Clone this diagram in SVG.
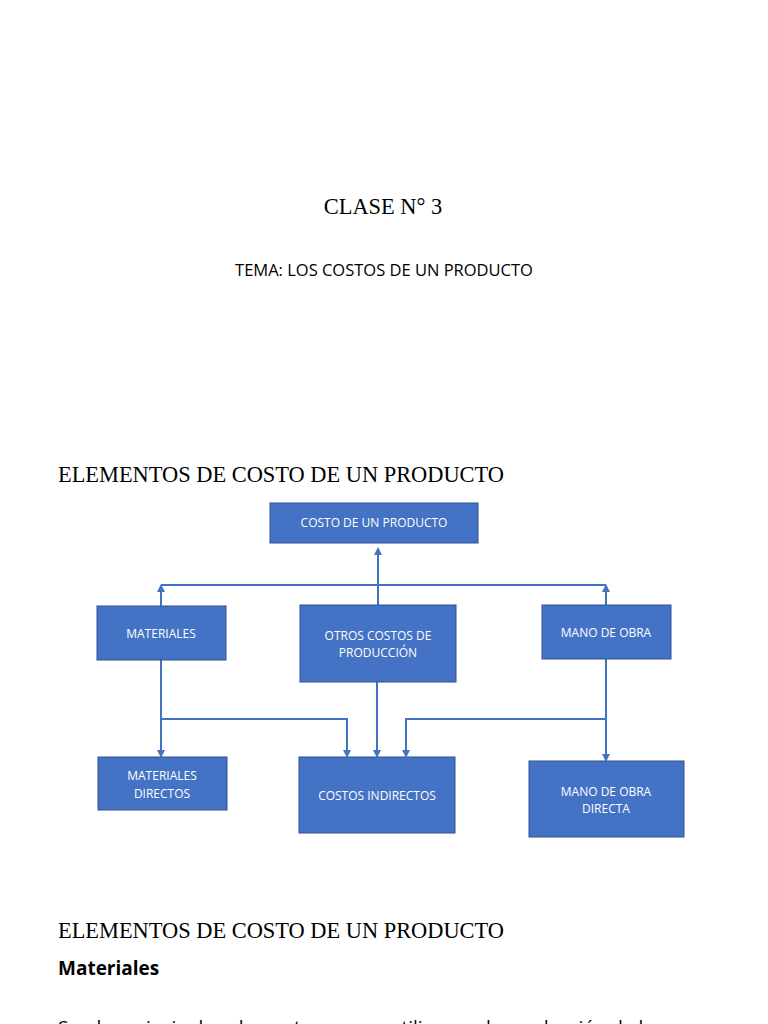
<svg xmlns="http://www.w3.org/2000/svg" width="768" height="1024" viewBox="0 0 768 1024">
<style>
.b{fill:#4472C4;stroke:#2F528F;stroke-width:1}
.t{fill:#fff;font-family:"Open Sans","Noto Sans",sans-serif;font-size:12px;text-anchor:middle}
.c{fill:none;stroke:#4472C4;stroke-width:2}
.s{font-family:"Liberation Serif",serif;font-size:22.4px;fill:#000}
.n{font-family:"Open Sans","Noto Sans",sans-serif;fill:#000}
</style>
<defs><marker id="a" markerWidth="8" markerHeight="8" refX="4" refY="4" orient="auto" markerUnits="userSpaceOnUse"><path d="M0,0 L8,4 L0,8 z" fill="#4472C4"/></marker></defs>
<rect width="768" height="1024" fill="#fff"/>
<text class="s" x="383" y="214" text-anchor="middle">CLASE N° 3</text>
<text class="n" x="384" y="276" font-size="16.5" text-anchor="middle">TEMA: LOS COSTOS DE UN PRODUCTO</text>
<text class="s" x="58" y="482">ELEMENTOS DE COSTO DE UN PRODUCTO</text>
<text class="s" x="58" y="938">ELEMENTOS DE COSTO DE UN PRODUCTO</text>
<text class="n" x="58" y="975" font-size="19" font-weight="bold">Materiales</text>
<text class="n" x="58" y="1034" font-size="19">Son los principales elementos que se utilizan en la producción de los</text>
<g id="connectors">
<path class="c" d="M378 605 V551" marker-end="url(#a)"/>
<path class="c" d="M161 585 H606"/>
<path class="c" d="M161 606 V588" marker-end="url(#a)"/>
<path class="c" d="M606 605 V588" marker-end="url(#a)"/>
<path class="c" d="M161 660 V754" marker-end="url(#a)"/>
<path class="c" d="M161 719 H347 V754" marker-end="url(#a)"/>
<path class="c" d="M377 682 V754" marker-end="url(#a)"/>
<path class="c" d="M606 719 H406 V754" marker-end="url(#a)"/>
<path class="c" d="M606 659 V758" marker-end="url(#a)"/>
</g>
<g id="n1"><rect class="b" x="270" y="503" width="208" height="40"/><text class="t" x="374" y="527">COSTO DE UN PRODUCTO</text></g>
<g id="n2"><rect class="b" x="97" y="606" width="129" height="54"/><text class="t" x="161" y="638">MATERIALES</text></g>
<g id="n3"><rect class="b" x="300" y="605" width="156" height="77"/><text class="t" x="378" y="640">OTROS COSTOS DE</text><text class="t" x="378" y="657">PRODUCCIÓN</text></g>
<g id="n4"><rect class="b" x="542" y="605" width="129" height="54"/><text class="t" x="606" y="637">MANO DE OBRA</text></g>
<g id="n5"><rect class="b" x="98" y="757" width="129" height="53"/><text class="t" x="162" y="780">MATERIALES</text><text class="t" x="162" y="798">DIRECTOS</text></g>
<g id="n6"><rect class="b" x="299" y="757" width="156" height="76"/><text class="t" x="377" y="800">COSTOS INDIRECTOS</text></g>
<g id="n7"><rect class="b" x="529" y="761" width="155" height="76"/><text class="t" x="606" y="796">MANO DE OBRA</text><text class="t" x="606" y="813">DIRECTA</text></g>
</svg>
